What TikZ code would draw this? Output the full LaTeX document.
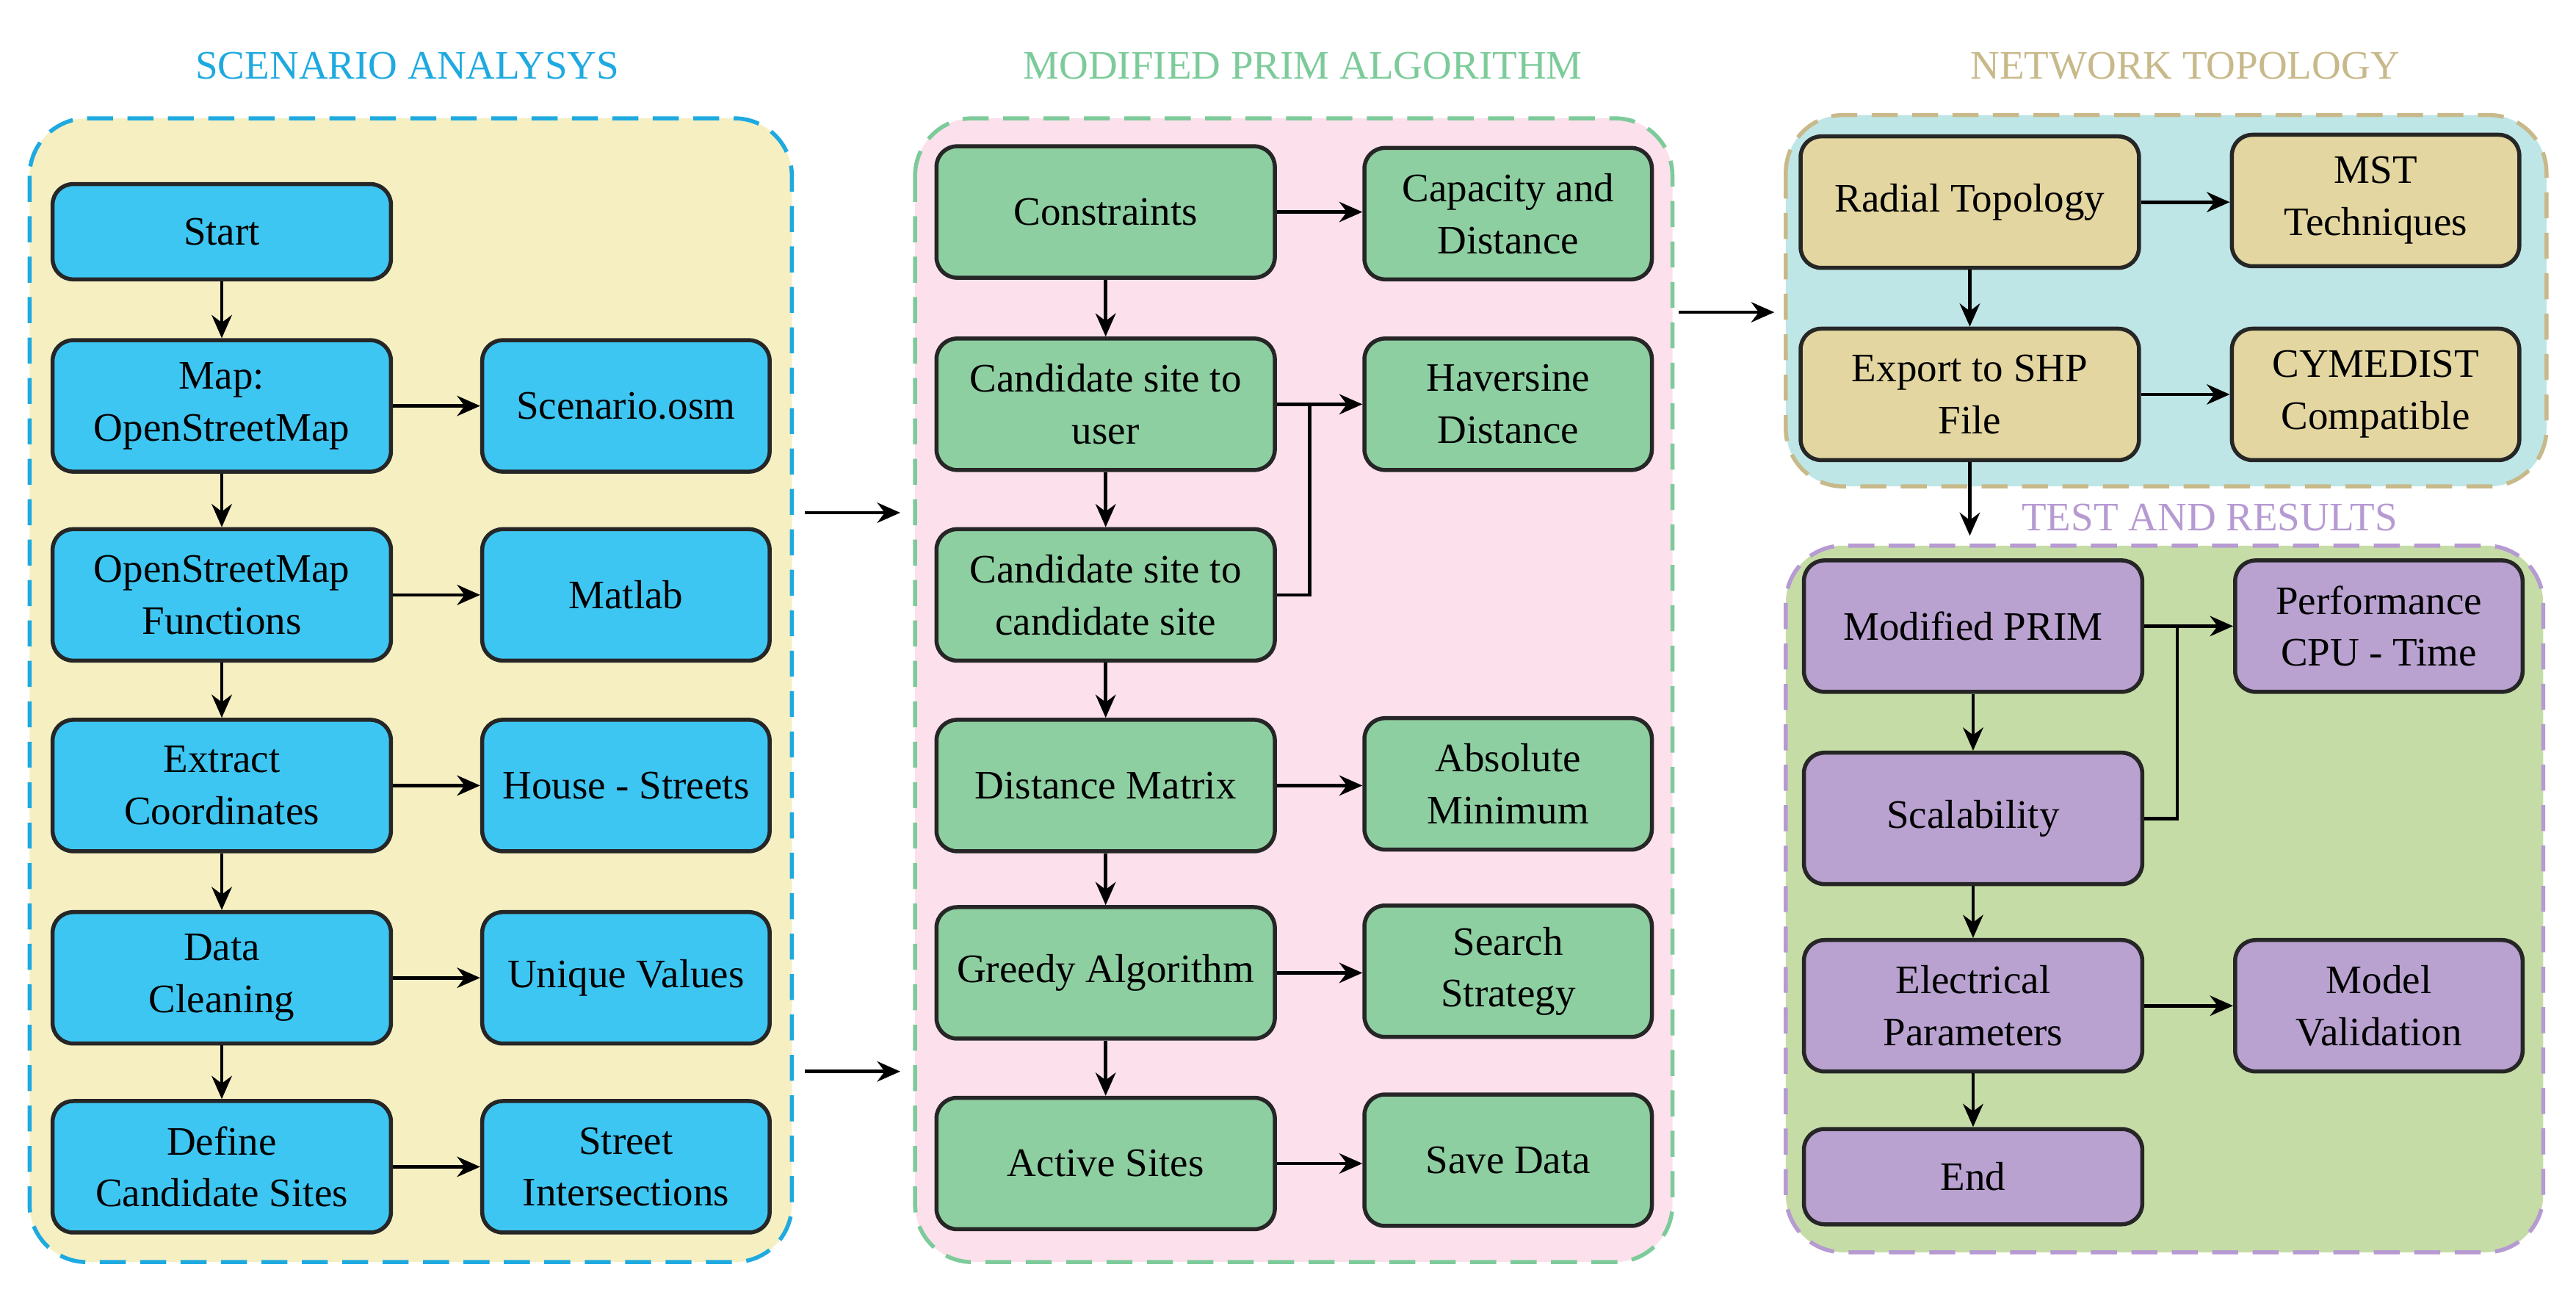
\documentclass[tikz,border=0pt]{standalone}
\usepackage{fontspec}
\setmainfont{Liberation Serif}
\usetikzlibrary{arrows.meta}
\definecolor{scblue}{HTML}{3EC6F3}
\definecolor{scline}{HTML}{1EAAE0}
\definecolor{scback}{HTML}{F5EFC2}
\definecolor{prgreen}{HTML}{8ECFA2}
\definecolor{prline}{HTML}{7DCB9A}
\definecolor{prback}{HTML}{FCE0EC}
\definecolor{nttan}{HTML}{E3D6A0}
\definecolor{ntline}{HTML}{C8B98A}
\definecolor{ntback}{HTML}{BFE6E6}
\definecolor{trpurple}{HTML}{B9A1D0}
\definecolor{trline}{HTML}{B69AD2}
\definecolor{trback}{HTML}{C6DCA6}
\begin{document}
\begin{tikzpicture}[
	x=0.02cm, y=-0.02cm,
	box/.style={draw=black!85, line width=1.4pt, rounded corners=0.25cm, align=center,
		minimum height=1.6cm, inner sep=1pt},
	lbox/.style={box, minimum width=4.12cm},
	rbox/.style={box, minimum width=3.5cm},
	panel/.style={line width=1.4pt, dash pattern=on 9pt off 5pt, rounded corners=0.7cm},
	title/.style={font=\fontsize{14}{17}\selectfont},
	arr/.style={-{Stealth[length=8pt,width=7pt]}, line width=1.2pt},
	every node/.style={font=\fontsize{14}{18}\selectfont},
]
\useasboundingbox (0,0) rectangle (1568,788);
% panels
\draw[panel, draw=scline, fill=scback] (18,72) rectangle (482,768);
\draw[panel, draw=prline, fill=prback] (557,72) rectangle (1018,768);
\draw[panel, draw=ntline, fill=ntback] (1087,70) rectangle (1550,296);
\draw[panel, draw=trline, fill=trback] (1087,332) rectangle (1548,762);
\node[title, text=scline] (t1) at (248,40) {SCENARIO ANALYSYS};
\node[title, text=prline] (t2) at (793,40) {MODIFIED PRIM ALGORITHM};
\node[title, text=ntline] (t3) at (1330,40) {NETWORK TOPOLOGY};
\node[title, text=trline] (t4) at (1345,315) {TEST AND RESULTS};

% scenario analysis
\node[lbox, fill=scblue, minimum height=1.16cm] (start) at (135,141) {Start};
\node[lbox, fill=scblue] (map) at (135,247) {Map:\\OpenStreetMap};
\node[lbox, fill=scblue] (osmf) at (135,362) {OpenStreetMap\\Functions};
\node[lbox, fill=scblue] (extr) at (135,478) {Extract\\Coordinates};
\node[lbox, fill=scblue] (clean) at (135,595) {Data\\Cleaning};
\node[lbox, fill=scblue] (cand) at (135,710) {Define\\Candidate Sites};
\node[rbox, fill=scblue] (osm) at (381,247) {Scenario.osm};
\node[rbox, fill=scblue] (matlab) at (381,362) {Matlab};
\node[rbox, fill=scblue] (house) at (381,478) {House - Streets};
\node[rbox, fill=scblue] (uniq) at (381,595) {Unique Values};
\node[rbox, fill=scblue] (inter) at (381,710) {Street\\Intersections};
\foreach \a/\b in {start/map, map/osmf, osmf/extr, extr/clean, clean/cand}
	\draw[arr] (\a) -- (\b);
\foreach \a/\b in {map/osm, osmf/matlab, extr/house, clean/uniq, cand/inter}
	\draw[arr] (\a) -- (\b);

% modified prim
\node[lbox, fill=prgreen] (cons) at (673,129) {Constraints};
\node[lbox, fill=prgreen] (cuser) at (673,246) {Candidate site to\\user};
\node[lbox, fill=prgreen] (ccand) at (673,362) {Candidate site to\\candidate site};
\node[lbox, fill=prgreen] (dmat) at (673,478) {Distance Matrix};
\node[lbox, fill=prgreen] (greedy) at (673,592) {Greedy Algorithm};
\node[lbox, fill=prgreen] (active) at (673,708) {Active Sites};
\node[rbox, fill=prgreen] (capa) at (918,130) {Capacity and\\Distance};
\node[rbox, fill=prgreen] (hav) at (918,246) {Haversine\\Distance};
\node[rbox, fill=prgreen] (absm) at (918,477) {Absolute\\Minimum};
\node[rbox, fill=prgreen] (search) at (918,591) {Search\\Strategy};
\node[rbox, fill=prgreen] (save) at (918,706) {Save Data};
\foreach \a/\b in {cons/cuser, cuser/ccand, ccand/dmat, dmat/greedy, greedy/active}
	\draw[arr] (\a) -- (\b);
\draw[arr] (cons.east) -- (cons.east -| capa.west);
\draw[arr] (cuser.east) -- (hav.west);
\draw[arr] (dmat.east) -- (dmat.east -| absm.west);
\draw[arr] (greedy.east) -- (greedy.east -| search.west);
\draw[arr] (active.east) -- (active.east -| save.west);
\draw[line width=1.2pt] (ccand.east) -- ++(20,0) |- (cuser.east);

% network topology
\node[lbox, fill=nttan] (radial) at (1199,123) {Radial Topology};
\node[lbox, fill=nttan] (export) at (1199,240) {Export to SHP\\File};
\node[rbox, fill=nttan] (mst) at (1446,122) {MST\\Techniques};
\node[rbox, fill=nttan] (cyme) at (1446,240) {CYMEDIST\\Compatible};
\draw[arr] (radial) -- (export);
\draw[arr] (radial.east) -- (radial.east -| mst.west);
\draw[arr] (export) -- (cyme);

% test and results
\node[lbox, fill=trpurple] (mprim) at (1201,381) {Modified PRIM};
\node[lbox, fill=trpurple] (scal) at (1201,498) {Scalability};
\node[lbox, fill=trpurple] (elec) at (1201,612) {Electrical\\Parameters};
\node[lbox, fill=trpurple, minimum height=1.16cm] (fin) at (1201,716) {End};
\node[rbox, fill=trpurple] (perf) at (1448,381) {Performance\\CPU - Time};
\node[rbox, fill=trpurple] (model) at (1448,612) {Model\\Validation};
\foreach \a/\b in {mprim/scal, scal/elec, elec/fin}
	\draw[arr] (\a) -- (\b);
\draw[arr] (mprim) -- (perf);
\draw[arr] (elec) -- (model);
\draw[line width=1.2pt] (scal.east) -- ++(20,0) |- (mprim.east);
\coordinate (trtop) at (1199,326);
\draw[arr] (export.south) -- (trtop);

% links between panels
\coordinate (l1) at (490,312); \coordinate (r1) at (548,312);
\coordinate (l2) at (490,652); \coordinate (r2) at (548,652);
\coordinate (l3) at (1022,190); \coordinate (r3) at (1080,190);
\draw[arr] (l1) -- (r1);
\draw[arr] (l2) -- (r2);
\draw[arr] (l3) -- (r3);
\end{tikzpicture}
\end{document}
